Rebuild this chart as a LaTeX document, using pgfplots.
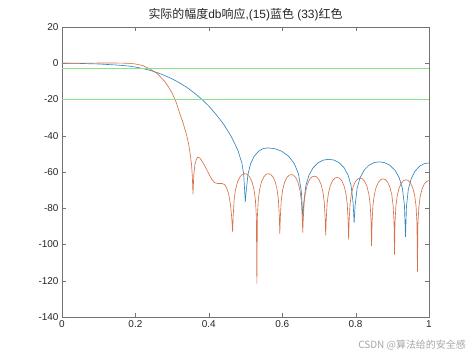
\documentclass[border=0pt]{standalone}
\usepackage{pgfplots}
\pgfplotsset{compat=1.18}
\usepackage{fontspec}
\setmainfont{Liberation Sans}
\newfontfamily\cjk{Noto Sans CJK SC}
\definecolor{mblue}{RGB}{50,135,190}
\definecolor{mred}{RGB}{215,115,75}
\definecolor{mgreen}{RGB}{135,228,135}
\begin{document}
\begin{tikzpicture}
\begin{axis}[name=ax, scale only axis, width=367bp, height=290bp,
  xmin=0, xmax=1, ymin=-140, ymax=20,
  xtick={0,0.2,0.4,0.6,0.8,1}, ytick={-140,-120,-100,-80,-60,-40,-20,0,20},
  tick align=inside, major tick length=4bp,
  axis line style={black!55}, tick style={black!55},
  ticklabel style={font=\fontsize{10}{12}\selectfont, color=black!85},
  /pgf/number format/assume math mode=true,
  title={{\cjk 实际的幅度}db{\cjk 响应},(15){\cjk 蓝色} (33){\cjk 红色}},
  title style={font=\fontsize{12}{14}\selectfont, color=black!85, yshift=-3bp},
  every axis plot/.append style={line width=0.65bp}]
\addplot[mblue] coordinates {
(0,0) (0.05,-0.1) (0.1,-0.4) (0.15,-1.0) (0.18,-1.5) (0.2,-2.1) (0.22,-2.9) (0.24,-3.9) (0.26,-5.2) (0.28,-6.8) (0.30,-8.6) (0.32,-10.8) (0.34,-13.3) (0.36,-16.3) (0.38,-19.7) (0.40,-23.6) (0.42,-28.3) (0.44,-33.5) (0.46,-40) (0.47,-44) (0.48,-48.5) (0.49,-55) (0.495,-61) (0.4995,-76.5)
(0.5019,-70.7) (0.5068,-61.2) (0.514,-55.4) (0.5237,-51.3) (0.5358,-48.5) (0.5479,-47.1) (0.56,-46.7) (0.5792,-47.1) (0.5984,-48.5) (0.6176,-51.3) (0.633,-55.4) (0.6445,-61.2) (0.6522,-70.7) (0.656,-84.8)
(0.6588,-77) (0.6645,-67.5) (0.673,-61.7) (0.6844,-57.6) (0.6986,-54.8) (0.7128,-53.4) (0.727,-53) (0.7408,-53.4) (0.7546,-54.8) (0.7684,-57.6) (0.7794,-61.7) (0.7877,-67.5) (0.7932,-77) (0.796,-88)
(0.7987,-78.4) (0.8042,-68.9) (0.8123,-63.1) (0.8232,-59) (0.8368,-56.2) (0.8504,-54.8) (0.864,-54.4) (0.8784,-54.8) (0.8928,-56.2) (0.9072,-59) (0.9187,-63.1) (0.9274,-68.9) (0.9331,-78.4) (0.936,-95.8)
(0.9386,-79) (0.9437,-69.5) (0.9514,-63.7) (0.9616,-59.6) (0.9744,-56.8) (0.9872,-55.4) (1,-55)
};
\addplot[mred] coordinates {
(0,0) (0.05,0.05) (0.1,0.1) (0.15,0.1) (0.18,0) (0.2,-0.4) (0.22,-1.3) (0.24,-3.2) (0.26,-5.8) (0.28,-10) (0.29,-13) (0.30,-16.5) (0.31,-21) (0.32,-27) (0.33,-33) (0.34,-40) (0.345,-44.5) (0.35,-51) (0.353,-56) (0.355,-62) (0.357,-72.3)
(0.359,-62) (0.362,-56) (0.366,-53) (0.370,-51.8) (0.375,-52.2) (0.38,-53.5) (0.39,-57) (0.40,-61) (0.408,-64) (0.415,-65.8) (0.425,-66.4) (0.435,-66.3) (0.444,-67) (0.45,-69.5) (0.455,-73) (0.459,-78) (0.462,-84) (0.465,-93)
(0.4663,-84.9) (0.469,-75.4) (0.4729,-69.6) (0.4782,-65.5) (0.4848,-62.7) (0.4914,-61.3) (0.498,-60.9) (0.5046,-61.3) (0.5112,-62.7) (0.5178,-65.5) (0.5231,-69.6) (0.527,-75.4) (0.5297,-84.9) (0.531,-121.6)
(0.5323,-84.9) (0.5348,-75.4) (0.5385,-69.6) (0.5435,-65.5) (0.5498,-62.7) (0.556,-61.3) (0.5623,-60.9) (0.5685,-61.3) (0.5748,-62.7) (0.581,-65.5) (0.586,-69.6) (0.5897,-75.4) (0.5922,-84.9) (0.5935,-94)
(0.5948,-85.4) (0.5973,-75.9) (0.601,-70.1) (0.606,-66.0) (0.6123,-63.2) (0.6185,-61.8) (0.6248,-61.4) (0.631,-61.8) (0.6373,-63.2) (0.6435,-66.0) (0.6485,-70.1) (0.6522,-75.9) (0.6547,-85.4) (0.656,-93.4)
(0.6573,-86.3) (0.6598,-76.8) (0.6635,-71.0) (0.6685,-66.9) (0.6748,-64.1) (0.681,-62.7) (0.6873,-62.3) (0.6935,-62.7) (0.6998,-64.1) (0.706,-66.9) (0.711,-71.0) (0.7147,-76.8) (0.7172,-86.3) (0.7185,-95)
(0.7198,-87) (0.7223,-77.5) (0.726,-71.7) (0.731,-67.6) (0.7373,-64.8) (0.7435,-63.4) (0.7498,-63) (0.756,-63.4) (0.7623,-64.8) (0.7685,-67.6) (0.7735,-71.7) (0.7772,-77.5) (0.7797,-87) (0.781,-97.3)
(0.7823,-87.4) (0.7848,-77.9) (0.7885,-72.1) (0.7935,-68.0) (0.7998,-65.2) (0.806,-63.8) (0.8123,-63.4) (0.8185,-63.8) (0.8248,-65.2) (0.831,-68.0) (0.836,-72.1) (0.8397,-77.9) (0.8422,-87.4) (0.8435,-100.8)
(0.8448,-87.8) (0.8473,-78.3) (0.851,-72.5) (0.856,-68.4) (0.8623,-65.6) (0.8685,-64.2) (0.8748,-63.8) (0.881,-64.2) (0.8873,-65.6) (0.8935,-68.4) (0.8985,-72.5) (0.9022,-78.3) (0.9047,-87.8) (0.906,-105.6)
(0.9073,-88.3) (0.9098,-78.8) (0.9135,-73.0) (0.9185,-68.9) (0.9248,-66.1) (0.931,-64.7) (0.9373,-64.3) (0.9435,-64.7) (0.9498,-66.1) (0.956,-68.9) (0.961,-73.0) (0.9647,-78.8) (0.9672,-88.3) (0.9685,-115)
(0.9698,-88.8) (0.9723,-79.3) (0.976,-73.5) (0.981,-69.4) (0.9873,-66.6) (0.9935,-65.2) (1,-64.8)
};
\addplot[mgreen, line width=1.4bp] coordinates {(0,-3) (1,-3)};
\addplot[mgreen, line width=1.4bp] coordinates {(0,-20) (1,-20)};
\end{axis}
\node[anchor=south east, font=\cjk\fontsize{10}{12}\selectfont, text=black!35, inner sep=0pt] at ([xshift=37bp,yshift=-33bp]ax.south east) {CSDN @算法给的安全感};
\path ([xshift=-62bp,yshift=-38bp]ax.south west) rectangle ([xshift=45bp,yshift=27bp]ax.north east);
\end{tikzpicture}
\end{document}
